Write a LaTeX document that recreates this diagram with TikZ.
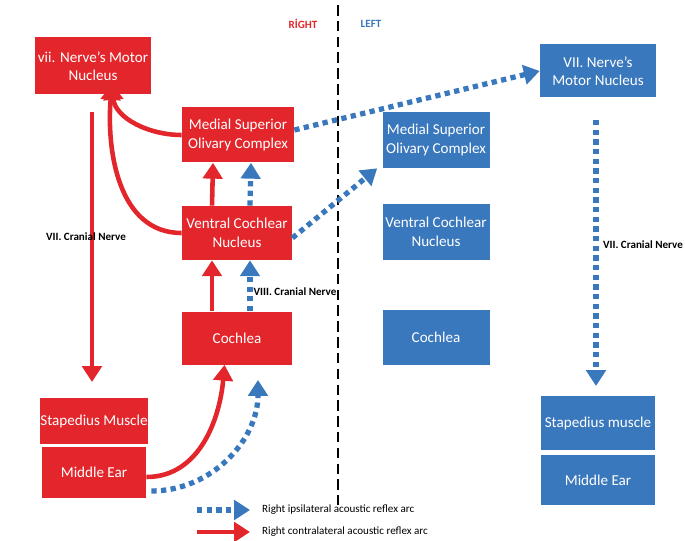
\documentclass[tikz,border=0pt]{standalone}
\usepackage{fontspec}
\setmainfont{Carlito}
\usetikzlibrary{arrows.meta}
\definecolor{rred}{HTML}{E3262B}
\definecolor{lblue}{HTML}{3A78BD}
\begin{document}
\begin{tikzpicture}[x=0.02cm,y=-0.02cm]
	
	% Define styles
	\tikzset{
		box/.style={draw=none, text=white, align=center, font=\fontsize{8.6}{10.5}\selectfont, inner sep=0pt},
		redbox/.style={box, fill=rred},
		bluebox/.style={box, fill=lblue},
		redarc/.style={rred, line width=2.6pt, -{Triangle[length=9pt,width=11pt]}},
		bluearc/.style={lblue, line width=3pt, dash pattern=on 3pt off 2.5pt, -{Triangle[length=9pt,width=11pt]}},
		lab/.style={font=\bfseries\fontsize{6.3}{7}\selectfont}
	}
	\useasboundingbox (0,0) rectangle (685,540);
	
	% Right side boxes
	\node[redbox, minimum width=116*0.02cm, minimum height=57*0.02cm] (rmotor) at (93,66) {\textsc{vii}. Nerve's Motor\\Nucleus};
	\node[redbox, minimum width=112*0.02cm, minimum height=55*0.02cm] (rmso) at (238,135) {Medial Superior\\Olivary Complex};
	\node[redbox, minimum width=110*0.02cm, minimum height=54*0.02cm] (rvcn) at (237,233) {Ventral Cochlear\\Nucleus};
	\node[redbox, minimum width=110*0.02cm, minimum height=53*0.02cm] (rcoch) at (237,338) {Cochlea};
	\node[redbox, minimum width=104*0.02cm, minimum height=46*0.02cm] (rstap) at (94,421) {Stapedius Muscle};
	\node[redbox, minimum width=104*0.02cm, minimum height=51*0.02cm] (rear) at (94,472) {Middle Ear};
	
	% Left side boxes
	\node[bluebox, minimum width=116*0.02cm, minimum height=53*0.02cm] (lmotor) at (598,71) {VII. Nerve's\\Motor Nucleus};
	\node[bluebox, minimum width=107*0.02cm, minimum height=56*0.02cm] (lmso) at (436,140) {Medial Superior\\Olivary Complex};
	\node[bluebox, minimum width=107*0.02cm, minimum height=55*0.02cm] (lvcn) at (436,232) {Ventral Cochlear\\Nucleus};
	\node[bluebox, minimum width=107*0.02cm, minimum height=55*0.02cm] (lcoch) at (436,337) {Cochlea};
	\node[bluebox, minimum width=114*0.02cm, minimum height=54*0.02cm] (lstap) at (598,423) {Stapedius muscle};
	\node[bluebox, minimum width=114*0.02cm, minimum height=50*0.02cm] (lear) at (598,480) {Middle Ear};
	
	% Midline and headings
	\coordinate (mtop) at (338,5);
	\coordinate (mbot) at (338,505);
	\draw[line width=1.2pt, dash pattern=on 6pt off 3pt] (mtop) -- (mbot);
	\node[lab, text=rred] (hright) at (303,24) {RİGHT};
	\node[lab, text=lblue] (hleft) at (371,24) {LEFT};
	
	% Red pathway
	\coordinate (rnerve) at (92,112);
	\coordinate (rstapin) at (92,382);
	\draw[redarc] (rnerve) -- (rstapin);
	\node[lab] (rnlab) at (86,237) {VII. Cranial Nerve};
	\coordinate (rmtip) at (112,84);
	\draw[redarc] (rmso.west) to[out=180,in=-85] (rmtip);
	\draw[redarc] (rvcn.west) to[out=180,in=-95] (rmtip);
	\draw[redarc] ([xshift=-0.5cm]rvcn.north) -- ([xshift=-0.5cm]rmso.south);
	\draw[redarc] ([xshift=-0.5cm]rcoch.north) -- ([xshift=-0.5cm]rvcn.south);
	\draw[redarc] ([yshift=-0.1cm]rear.east) to[out=0,in=-95] ([xshift=-0.25cm]rcoch.south);
	
	% Blue pathway
	\draw[bluearc] ([xshift=0.26cm]rvcn.north) -- ([xshift=0.26cm]rmso.south);
	\draw[bluearc] ([xshift=0.26cm]rcoch.north) -- ([xshift=0.26cm]rvcn.south);
	\node[lab] (vlab) at (295,292) {VIII. Cranial Nerve};
	\coordinate (rcochin) at (258,380);
	\draw[bluearc] ([xshift=0.1cm,yshift=-0.38cm]rear.east) to[out=0,in=-90] (rcochin);
	\draw[bluearc] ([yshift=0.1cm]rmso.east) -- (lmotor.west);
	\draw[bluearc] ([yshift=-0.1cm]rvcn.east) -- ([xshift=-0.1cm]lmso.south west);
	\coordinate (lnerve) at (596,120);
	\coordinate (lstapin) at (596,386);
	\draw[bluearc] (lnerve) -- (lstapin);
	\node[lab] (lnlab) at (643,245) {VII. Cranial Nerve};
	
	% Legend
	\coordinate (k1a) at (197,510);
	\coordinate (k1b) at (250,510);
	\coordinate (k2a) at (197,532);
	\coordinate (k2b) at (250,532);
	\draw[bluearc] (k1a) -- (k1b);
	\draw[redarc] (k2a) -- (k2b);
	\node[font=\fontsize{6.3}{7}\selectfont, anchor=west] (k1t) at (256,510) {Right ipsilateral acoustic reflex arc};
	\node[font=\fontsize{6.3}{7}\selectfont, anchor=west] (k2t) at (256,532) {Right contralateral acoustic reflex arc};
\end{tikzpicture}
\end{document}
